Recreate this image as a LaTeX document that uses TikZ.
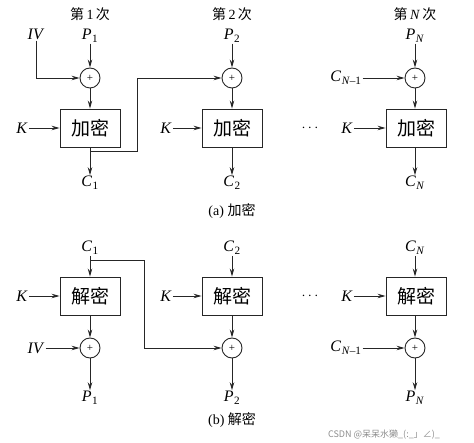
\documentclass[tikz,border=0pt]{standalone}
\usepackage{fontspec}
\setmainfont{Liberation Serif}
\newfontfamily\cjk{Noto Sans CJK SC}
\usetikzlibrary{arrows.meta}
\newcommand\vs[2]{\textit{#1}\kern0.5pt\textsubscript{#2}}
\begin{document}
\begin{tikzpicture}[x=1pt,y=1pt,
  blk/.style={draw=black!85, line width=0.9pt, minimum width=60pt, minimum height=38pt, inner sep=0pt, font=\cjk\fontsize{19}{19}\selectfont},
  xorn/.style={draw=black!85, circle, line width=0.9pt, minimum size=20pt, inner sep=0pt, font=\fontsize{11}{11}\selectfont},
  lbl/.style={font=\fontsize{16}{16}\selectfont, inner sep=1pt},
  ttl/.style={font=\fontsize{14}{14}\selectfont, inner sep=1pt},
  arr/.style={draw=black!85, -{Stealth[length=8pt,width=4.5pt]}, line width=0.9pt}]
\useasboundingbox (0,0) rectangle (474,-443);
% ---------- encryption ----------
\node[ttl] (t1) at (90,-14) {{\cjk 第}\,1\,{\cjk 次}};
\node[ttl] (t2) at (232,-14) {{\cjk 第}\,2\,{\cjk 次}};
\node[ttl] (t3) at (415,-14) {{\cjk 第}\,\textit{N}\,{\cjk 次}};
\node[lbl] (iv1) at (36,-34) {\textit{IV}};
\node[lbl] (p1) at (90,-36) {\vs{P}{1}};
\node[lbl] (p2) at (232,-36) {\vs{P}{2}};
\node[lbl] (pn) at (415,-36) {\vs{P}{\textit{N}}};
\node[xorn] (x1) at (90,-78) {+};
\node[xorn] (x2) at (232,-78) {+};
\node[xorn] (x3) at (415,-78) {+};
\node[lbl] (cn1) at (346,-78) {\vs{C}{\textit{N}–1}};
\node[blk] (b1) at (90,-128) {加密};
\node[blk] (b2) at (232,-128) {加密};
\node[blk] (b3) at (416,-128) {加密};
\node[lbl] (k1) at (22,-128) {\textit{K}};
\node[lbl] (k2) at (166,-128) {\textit{K}};
\node[lbl] (k3) at (347,-128) {\textit{K}};
\node[ttl] (dots1) at (310,-128) {$\cdots$};
\node[lbl] (c1) at (90,-183) {\vs{C}{1}};
\node[lbl] (c2) at (232,-183) {\vs{C}{2}};
\node[lbl] (cn) at (415,-183) {\vs{C}{\textit{N}}};
\node[ttl] (capa) at (232,-211) {(a)\ {\cjk 加密}};
\draw[arr] (iv1.south) |- (x1.west);
\draw[arr] (p1) -- (x1);
\draw[arr] (p2) -- (x2);
\draw[arr] (pn) -- (x3);
\draw[arr] (cn1) -- (x3);
\draw[arr] (x1) -- (b1);
\draw[arr] (x2) -- (b2);
\draw[arr] (x3) -- (b3.north -| x3);
\draw[arr] (k1) -- (b1);
\draw[arr] (k2) -- (b2);
\draw[arr] (k3) -- (b3);
\draw[arr] (b1) -- (c1);
\draw[arr] (b2) -- (c2);
\draw[arr] (b3.south -| cn) -- (cn);
\coordinate (f1) at (90,-151);
\coordinate (f1a) at (137,-151);
\draw[arr] (f1) -- (f1a) |- (x2.west);
% ---------- decryption ----------
\node[lbl] (dc1) at (90,-248) {\vs{C}{1}};
\node[lbl] (dc2) at (232,-248) {\vs{C}{2}};
\node[lbl] (dcn) at (415,-248) {\vs{C}{\textit{N}}};
\node[blk] (d1) at (90,-296) {解密};
\node[blk] (d2) at (232,-296) {解密};
\node[blk] (d3) at (416,-296) {解密};
\node[lbl] (dk1) at (22,-296) {\textit{K}};
\node[lbl] (dk2) at (166,-296) {\textit{K}};
\node[lbl] (dk3) at (347,-296) {\textit{K}};
\node[ttl] (dots2) at (310,-296) {$\cdots$};
\node[xorn] (y1) at (90,-348) {+};
\node[xorn] (y2) at (232,-348) {+};
\node[xorn] (y3) at (415,-348) {+};
\node[lbl] (div) at (36,-348) {\textit{IV}};
\node[lbl] (dcn1) at (346,-348) {\vs{C}{\textit{N}–1}};
\node[lbl] (dp1) at (90,-398) {\vs{P}{1}};
\node[lbl] (dp2) at (232,-398) {\vs{P}{2}};
\node[lbl] (dpn) at (415,-398) {\vs{P}{\textit{N}}};
\node[ttl] (capb) at (232,-420) {(b)\ {\cjk 解密}};
\node[font=\cjk\fontsize{9}{9}\selectfont, text=black!45, inner sep=0pt] (wm) at (384,-435) {CSDN @呆呆水獭\_(:\_」∠)\_};
\draw[arr] (dc1) -- (d1);
\draw[arr] (dc2) -- (d2);
\draw[arr] (dcn) -- (d3.north -| dcn);
\draw[arr] (dk1) -- (d1);
\draw[arr] (dk2) -- (d2);
\draw[arr] (dk3) -- (d3);
\draw[arr] (d1) -- (y1);
\draw[arr] (d2) -- (y2);
\draw[arr] (d3.south -| y3) -- (y3);
\draw[arr] (div) -- (y1);
\draw[arr] (dcn1) -- (y3);
\draw[arr] (y1) -- (dp1);
\draw[arr] (y2) -- (dp2);
\draw[arr] (y3) -- (dpn);
\coordinate (g1) at (90,-260);
\coordinate (g1a) at (144,-260);
\draw[arr] (g1) -- (g1a) |- (y2.west);
\end{tikzpicture}
\end{document}
